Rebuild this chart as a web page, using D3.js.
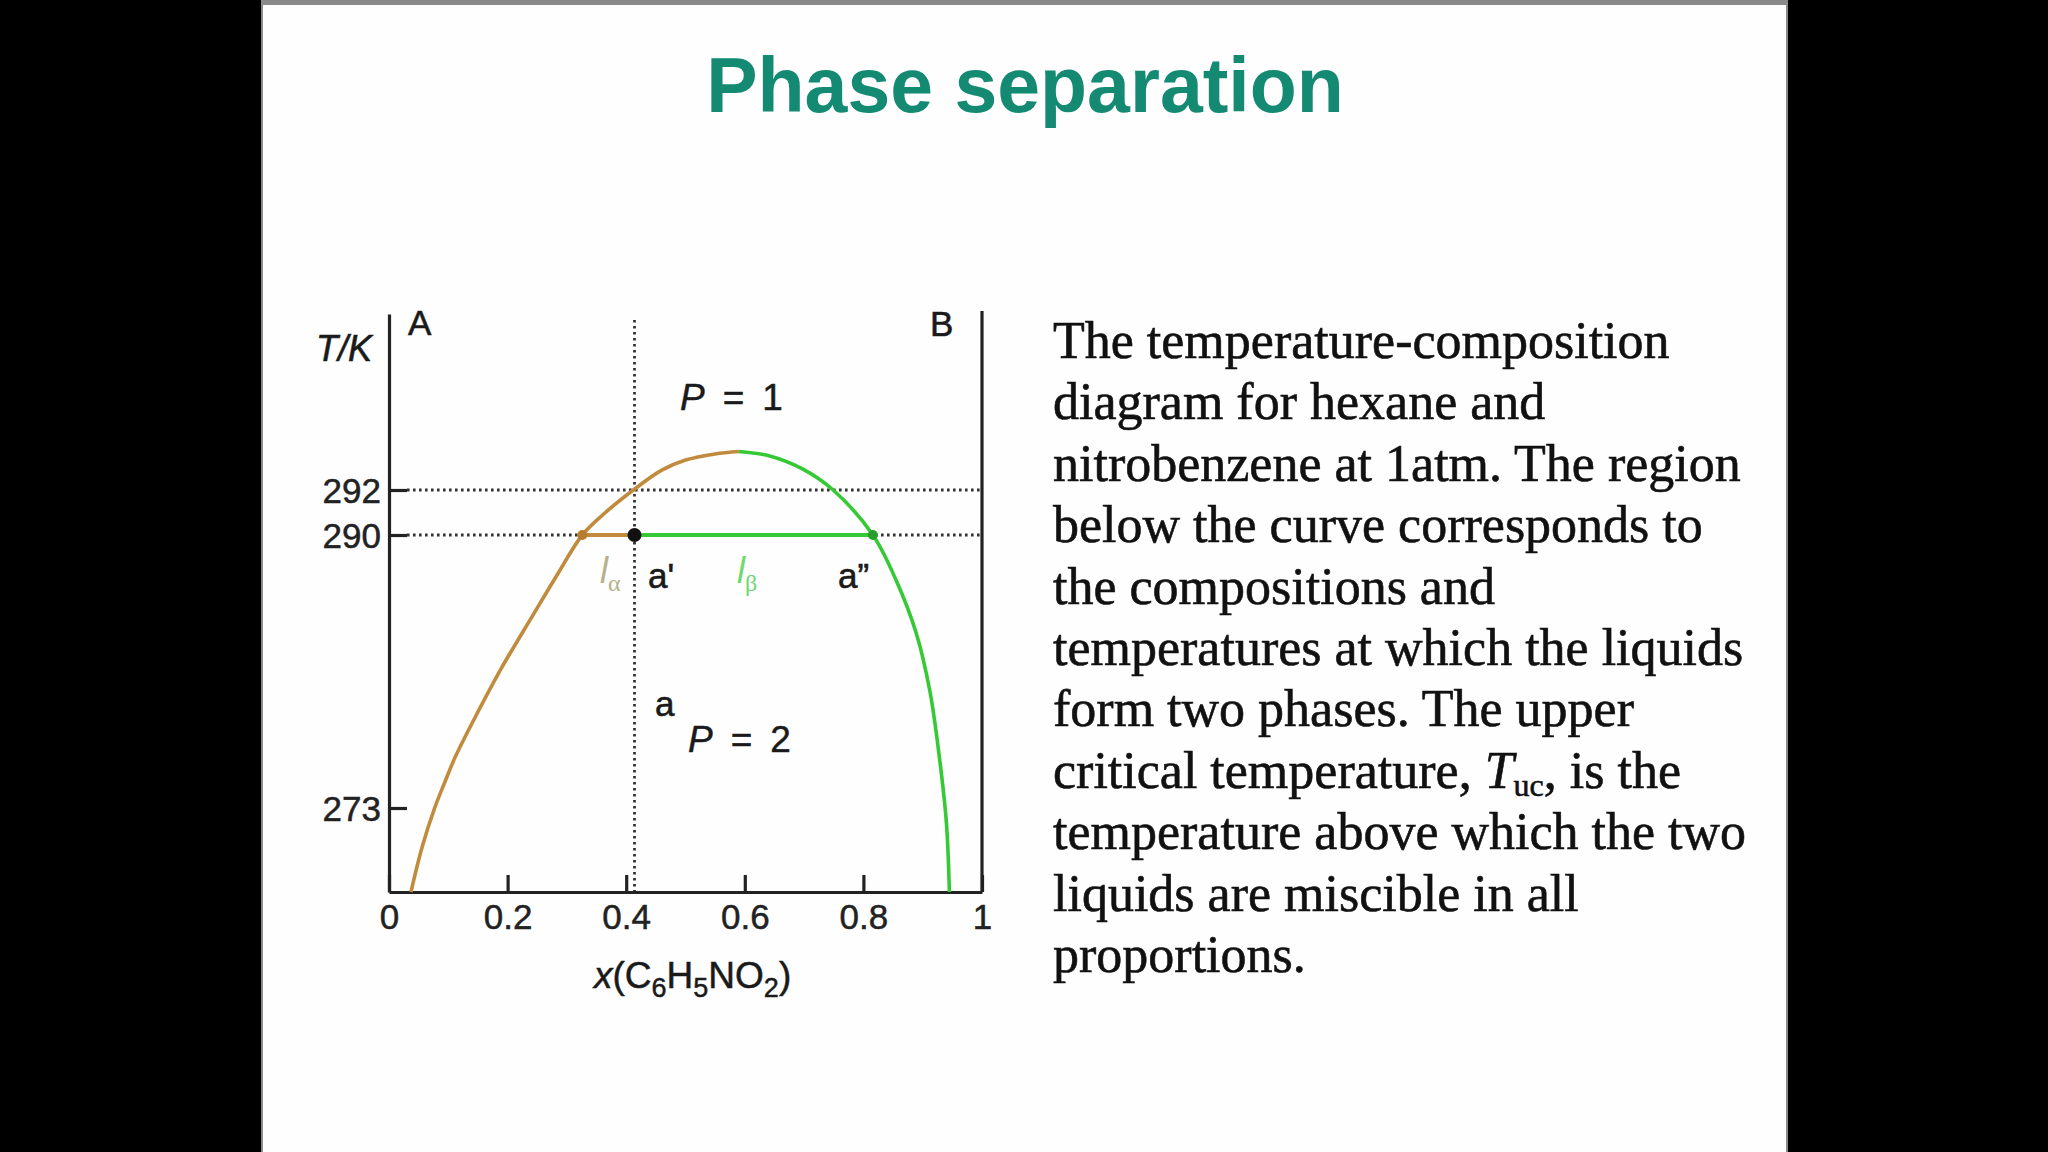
<!DOCTYPE html>
<html>
<head>
<meta charset="utf-8">
<script src="https://cdn.jsdelivr.net/npm/d3@7"></script>
<style>
  html, body { margin: 0; padding: 0; background: #000; }
  svg { display: block; }
</style>
</head>
<body>
<svg id="chart" width="2048" height="1152"></svg>
<script>
// ---------- data ----------
const titleText = "Phase separation";
const xTickValues = [0, 0.2, 0.4, 0.6, 0.8, 1];
const yTickValues = [273, 290, 292];
const yDomainBreaks = [268, 273, 290, 292, 300];

// coexistence curve: hexane-rich branch (l_alpha) and nitrobenzene-rich branch (l_beta)
const alphaX = [0.037, 0.056, 0.077, 0.094, 0.112, 0.146, 0.191, 0.241, 0.285, 0.326, 0.365, 0.416, 0.46, 0.5, 0.55, 0.59];
const alphaT = [268, 270.7, 273, 274.6, 276.2, 278.7, 281.8, 284.9, 287.6, 290, 291.0, 292.08, 292.9, 293.36, 293.64, 293.75];
const betaX  = [0.59, 0.642, 0.698, 0.749, 0.816, 0.855, 0.889, 0.912, 0.928, 0.940, 0.945];
const betaT  = [293.75, 293.55, 292.95, 292, 290, 287.2, 283.9, 280.3, 276.2, 272.1, 268];

const guideTemps = [292, 290];
const isoplethX = 0.414;
const tieT = 290;
const tieAlphaX = 0.326;
const tieBetaX = 0.816;

const paragraph = [
  "The temperature-composition",
  "diagram for hexane and",
  "nitrobenzene at 1atm. The region",
  "below the curve corresponds to",
  "the compositions and",
  "temperatures at which the liquids",
  "form two phases. The upper",
  "critical temperature, |T|uc|, is the",
  "temperature above which the two",
  "liquids are miscible in all",
  "proportions."
];

// ---------- drawing ----------
const svg = d3.select("#chart");
const sans = "Liberation Sans, Arial, Helvetica, sans-serif";
const serif = "Liberation Serif, 'Times New Roman', Times, serif";
const orange = "#c08b3c";
const green = "#35c935";

// slide background
svg.append("rect").attr("x", 0).attr("y", 0).attr("width", 2048).attr("height", 1152).attr("fill", "#000");
svg.append("rect").attr("x", 261).attr("y", 0).attr("width", 1527).attr("height", 1152).attr("fill", "#8a8a8a");
svg.append("rect").attr("x", 263).attr("y", 5).attr("width", 1523).attr("height", 1147).attr("fill", "#fefefe");

// title
svg.append("text")
  .attr("x", 1025).attr("y", 112)
  .attr("text-anchor", "middle")
  .attr("font-family", sans).attr("font-weight", "bold").attr("font-size", 77)
  .attr("fill", "#148a72")
  .text(titleText);

// scales
const x = d3.scaleLinear().domain([0, 1]).range([389, 982]);
const y = d3.scaleLinear().domain(yDomainBreaks).range([892, 808, 535, 490, 314]);

const g = svg.append("g");

// dotted guides
const dotted = sel => sel.attr("stroke", "#333").attr("stroke-width", 2.8)
  .attr("stroke-dasharray", "2.6 3.4").attr("fill", "none");
guideTemps.forEach(t => {
  g.append("line").attr("x1", x(0) + 18).attr("x2", x(1)).attr("y1", y(t)).attr("y2", y(t)).call(dotted);
});
g.append("line").attr("x1", x(isoplethX)).attr("x2", x(isoplethX)).attr("y1", 320).attr("y2", y(268)).call(dotted);

// axes
const yAxis = d3.axisLeft(y).tickValues(yTickValues).tickSizeInner(-18).tickSizeOuter(0).tickPadding(8);
const xAxis = d3.axisBottom(x).tickValues(xTickValues).tickSizeInner(-17).tickSizeOuter(0).tickPadding(12)
  .tickFormat(d => String(d));

const yg = g.append("g").attr("transform", `translate(${x(0)},0)`).call(yAxis);
const xg = g.append("g").attr("transform", `translate(0,${y(268)})`).call(xAxis);
[yg, xg].forEach(a => {
  a.select(".domain").attr("stroke", "#222").attr("stroke-width", 3.2);
  a.selectAll(".tick line").attr("stroke", "#222").attr("stroke-width", 3.2);
  a.selectAll(".tick text").attr("font-family", sans).attr("font-size", 35).attr("fill", "#222")
    .attr("stroke", "#222").attr("stroke-width", 0.5);
});
yg.selectAll(".tick text").attr("dy", "0.36em");
// right boundary (pure B)
g.append("line").attr("x1", x(1)).attr("x2", x(1)).attr("y1", 311).attr("y2", y(268))
  .attr("stroke", "#222").attr("stroke-width", 3.2);

// curve
const line = d3.line().x(d => x(d[0])).y(d => y(d[1])).curve(d3.curveCatmullRom.alpha(0.5));
g.append("path").attr("d", line(d3.zip(alphaX, alphaT)))
  .attr("fill", "none").attr("stroke", orange).attr("stroke-width", 3.6);
g.append("path").attr("d", line(d3.zip(betaX, betaT)))
  .attr("fill", "none").attr("stroke", green).attr("stroke-width", 3.6);

// tie line
g.append("line").attr("x1", x(tieAlphaX)).attr("x2", x(isoplethX)).attr("y1", y(tieT)).attr("y2", y(tieT))
  .attr("stroke", orange).attr("stroke-width", 4);
g.append("line").attr("x1", x(isoplethX)).attr("x2", x(tieBetaX)).attr("y1", y(tieT)).attr("y2", y(tieT))
  .attr("stroke", green).attr("stroke-width", 4);
g.append("circle").attr("cx", x(tieAlphaX)).attr("cy", y(tieT)).attr("r", 5).attr("fill", "#b87d2c");
g.append("circle").attr("cx", x(tieBetaX)).attr("cy", y(tieT)).attr("r", 5).attr("fill", "#2a9e2a");
g.append("circle").attr("cx", x(isoplethX)).attr("cy", y(tieT)).attr("r", 7).attr("fill", "#111");

// labels in the diagram
const lab = (tx, ty, txt, opts = {}) => g.append("text").attr("x", tx).attr("y", ty)
  .attr("font-family", sans).attr("font-size", opts.size || 35)
  .attr("font-style", opts.italic ? "italic" : "normal")
  .attr("fill", opts.fill || "#1a1a1a").attr("stroke", opts.fill || "#1a1a1a").attr("stroke-width", 0.6)
  .attr("text-anchor", opts.anchor || "start").text(txt);

lab(408, 335, "A");
lab(930, 336, "B");
lab(372, 361, "T/K", { italic: true, anchor: "end", size: 36 });

function pLabel(px, py, num) {
  const t = g.append("text").attr("x", px).attr("y", py).attr("font-family", sans).attr("font-size", 37)
    .attr("fill", "#1a1a1a").attr("stroke", "#1a1a1a").attr("stroke-width", 0.5);
  t.append("tspan").attr("font-style", "italic").text("P");
  t.append("tspan").attr("dx", 18).text("=");
  t.append("tspan").attr("dx", 18).text(num);
}
pLabel(680, 410, "1");
pLabel(688, 752, "2");

lab(648, 588, "a'");
lab(838, 588, "a\u201D");
lab(655, 716, "a");

function subLabel(px, py, main, sub, color) {
  const t = g.append("text").attr("x", px).attr("y", py).attr("font-family", sans).attr("font-size", 36).attr("fill", color);
  t.append("tspan").attr("font-style", "italic").text(main);
  t.append("tspan").attr("font-size", 24).attr("dy", 8).attr("font-family", serif).text(sub);
}
subLabel(600, 583, "l", "\u03B1", "#b8b08a");
subLabel(737, 583, "l", "\u03B2", "#6fd86f");

// x-axis title x(C6H5NO2)
{
  const t = g.append("text").attr("x", 594).attr("y", 988).attr("font-family", sans).attr("font-size", 37)
    .attr("fill", "#1a1a1a").attr("stroke", "#1a1a1a").attr("stroke-width", 0.5);
  const parts = [["x", "i"], ["(C", "n"], ["6", "s"], ["H", "n"], ["5", "s"], ["NO", "n"], ["2", "s"], [")", "n"]];
  let prevSub = false;
  parts.forEach(([s, k]) => {
    const sp = t.append("tspan").text(s);
    if (k === "i") sp.attr("font-style", "italic");
    if (k === "s") { sp.attr("font-size", 27).attr("dy", prevSub ? 0 : 9); prevSub = true; }
    else { if (prevSub) sp.attr("dy", -9); prevSub = false; }
  });
}

// paragraph text
const para = svg.append("g");
paragraph.forEach((ln, i) => {
  const t = para.append("text").attr("x", 1053).attr("y", 358 + i * 61.4)
    .attr("font-family", serif).attr("font-size", 52).attr("fill", "#111")
    .attr("stroke", "#111").attr("stroke-width", 0.6);
  if (ln.includes("|")) {
    const [a, b, c, d] = ln.split("|");
    t.append("tspan").text(a);
    t.append("tspan").attr("font-style", "italic").text(b);
    t.append("tspan").attr("font-size", 32).attr("dy", 8).text(c);
    t.append("tspan").attr("dy", -8).text(d);
  } else {
    t.text(ln);
  }
});
</script>
</body>
</html>
